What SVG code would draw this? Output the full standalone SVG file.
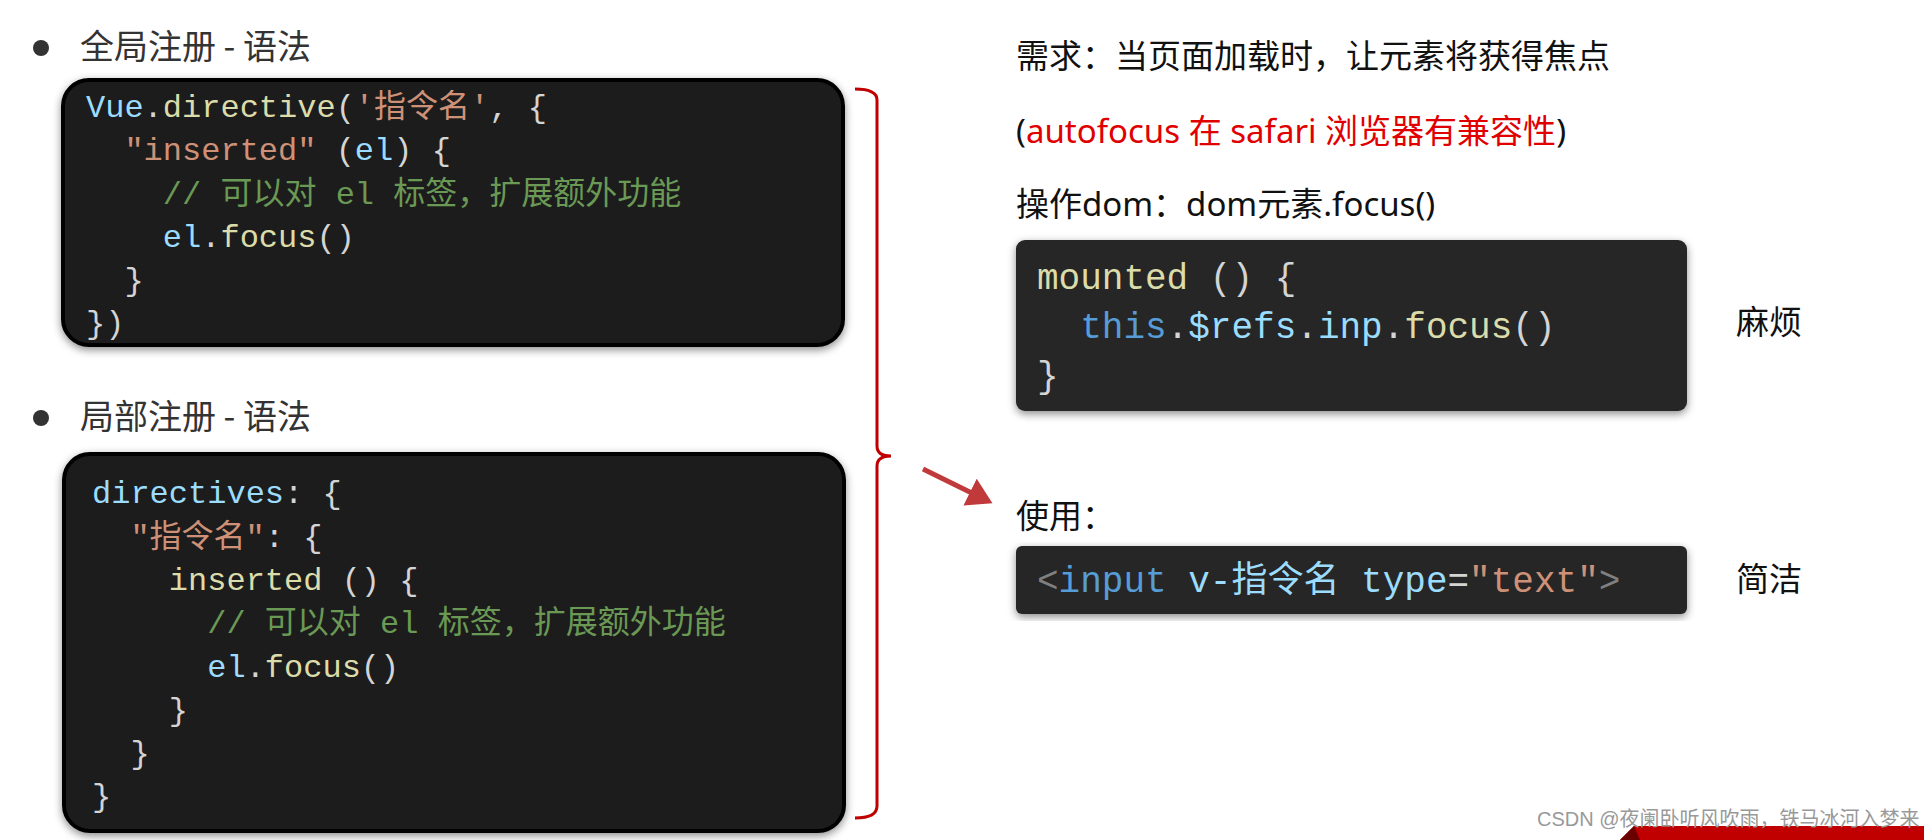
<svg xmlns="http://www.w3.org/2000/svg" width="1924" height="840" viewBox="0 0 1924 840">
<defs>
<style>
.h{font-family:"Noto Sans CJK SC","Noto Sans",sans-serif;fill:#333;font-size:34px}
.t{font-family:"Noto Sans","Noto Sans CJK SC",sans-serif;fill:#111;font-size:33px}
.c{font-family:"Liberation Mono","Noto Sans CJK SC",monospace;font-size:32px;fill:#d4d4d4}
.c2{font-family:"Liberation Mono","Noto Sans CJK SC",monospace;font-size:36px;fill:#d4d4d4}
.v{fill:#9cdcfe}.f{fill:#dcdcaa}.s{fill:#ce9178}.g{fill:#6a9955}.k{fill:#569cd6}.p{fill:#808080}
.box{fill:#1f1f1f;stroke:#000;stroke-width:4}
.dark{fill:#252526}
</style>
<filter id="sh" x="-5%" y="-5%" width="110%" height="115%"><feDropShadow dx="0" dy="3" stdDeviation="4" flood-color="#000" flood-opacity="0.45"/></filter>
<marker id="ah" markerWidth="6" markerHeight="6" refX="4" refY="3" orient="auto" markerUnits="strokeWidth"><path d="M0,0 L5,3 L0,6 z" fill="#c0393b"/></marker>
</defs>
<rect width="1924" height="840" fill="#fff"/>
<g id="global">
<circle cx="41" cy="48" r="8" fill="#333"/>
<text class="h" x="80" y="59">全局注册 - 语法</text>
<rect class="box" x="63" y="80" width="780" height="265" rx="26" filter="url(#sh)"/>
<text class="c" x="86" y="117"><tspan class="v">Vue</tspan>.<tspan class="f">directive</tspan>(<tspan class="s">'指令名'</tspan>, {</text>
<text class="c" x="86" y="160" xml:space="preserve">  <tspan class="s">"inserted"</tspan> (<tspan class="v">el</tspan>) {</text>
<text class="c g" x="86" y="204" xml:space="preserve">    // 可以对 el 标签，扩展额外功能</text>
<text class="c" x="86" y="247" xml:space="preserve">    <tspan class="v">el</tspan>.<tspan class="f">focus</tspan>()</text>
<text class="c" x="86" y="290" xml:space="preserve">  }</text>
<text class="c" x="86" y="333">})</text>
</g>
<g id="local">
<circle cx="41" cy="418" r="8" fill="#333"/>
<text class="h" x="80" y="429">局部注册 - 语法</text>
<rect class="box" x="64" y="454" width="780" height="377" rx="26" filter="url(#sh)"/>
<text class="c" x="92" y="503"><tspan class="v">directives</tspan>: {</text>
<text class="c" x="92" y="547" xml:space="preserve">  <tspan class="s">"指令名"</tspan>: {</text>
<text class="c" x="92" y="590" xml:space="preserve">    <tspan class="f">inserted</tspan> () {</text>
<text class="c g" x="92" y="633" xml:space="preserve">      // 可以对 el 标签，扩展额外功能</text>
<text class="c" x="92" y="677" xml:space="preserve">      <tspan class="v">el</tspan>.<tspan class="f">focus</tspan>()</text>
<text class="c" x="92" y="720" xml:space="preserve">    }</text>
<text class="c" x="92" y="763" xml:space="preserve">  }</text>
<text class="c" x="92" y="806">}</text>
</g>
<g id="connectors">
<path d="M855,89 Q877,89 877,100 L877,446 Q877,456 891,456 Q877,456 877,466 L877,806 Q877,818 855,818" fill="none" stroke="#c00000" stroke-width="3"/>
<line x1="923" y1="469" x2="988" y2="501" stroke="#c0393b" stroke-width="5" marker-end="url(#ah)"/>
</g>
<g id="right">
<text class="t" x="1016" y="68">需求：当页面加载时，让元素将获得焦点</text>
<text class="t" x="1016" y="143">(<tspan fill="#e00000">autofocus 在 safari 浏览器有兼容性</tspan>)</text>
<text class="t" x="1016" y="216">操作dom：dom元素.focus()</text>
</g>
<g id="mounted">
<rect class="dark" x="1016" y="240" width="671" height="171" rx="9" filter="url(#sh)"/>
<text class="c2" x="1037" y="289"><tspan class="f">mounted</tspan> () {</text>
<text class="c2" x="1037" y="338" xml:space="preserve">  <tspan class="k">this</tspan>.<tspan class="v">$refs</tspan>.<tspan class="v">inp</tspan>.<tspan class="f">focus</tspan>()</text>
<text class="c2" x="1037" y="387">}</text>
<text class="t" x="1736" y="334">麻烦</text>
</g>
<g id="usage">
<text class="t" x="1016" y="528">使用：</text>
<rect class="dark" x="1016" y="546" width="671" height="68" rx="6" filter="url(#sh)"/>
<text class="c2" x="1037" y="592"><tspan class="p">&lt;</tspan><tspan class="k">input</tspan> <tspan class="v">v-指令名</tspan> <tspan class="v">type</tspan>=<tspan class="s">"text"</tspan><tspan class="p">&gt;</tspan></text>
<text class="t" x="1736" y="591">简洁</text>
</g>
<polygon points="1620,840 1634,826 1924,826 1924,840" fill="#c00000"/>
<polygon points="1620,840 1634,826 1640,840" fill="#6a0000"/>
<text x="1537" y="826" font-family="Liberation Sans,'Noto Sans CJK SC',sans-serif" font-size="20" fill="#999">CSDN @夜阑卧听风吹雨，铁马冰河入梦来</text>
</svg>
